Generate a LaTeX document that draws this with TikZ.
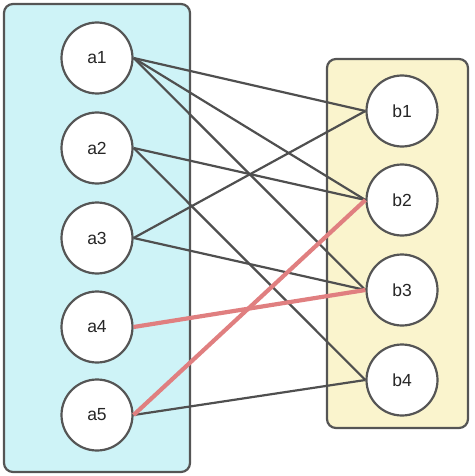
\documentclass[tikz,border=0pt]{standalone}
\usepackage{fontspec}
\setmainfont{Liberation Sans}
\definecolor{lblue}{HTML}{CEF3F7}
\definecolor{lyellow}{HTML}{FAF4CD}
\definecolor{edgec}{HTML}{4F4F4F}
\definecolor{bordc}{HTML}{555555}
\definecolor{redc}{HTML}{E07F80}
\begin{document}
\begin{tikzpicture}[x=1pt,y=-1pt,
  grp/.style={draw=bordc,line width=2.2pt,rounded corners=9pt},
  vtx/.style={circle,draw=bordc,fill=white,line width=2.2pt,minimum size=71pt,inner sep=0pt,font=\fontsize{17.5}{20}\selectfont,text=black!85},
  edge/.style={draw=edgec,line width=2.2pt},
  hl/.style={draw=redc,line width=4.2pt}]
\useasboundingbox (0,0) rectangle (474,476);
\draw[grp,fill=lblue] (4,4) rectangle (190,472);
\draw[grp,fill=lyellow] (327,59) rectangle (468,428);
\node[vtx] (a1) at (97,58) {a1};
\node[vtx] (a2) at (97,148) {a2};
\node[vtx] (a3) at (97,238) {a3};
\node[vtx] (a4) at (97,327) {a4};
\node[vtx] (a5) at (97,415) {a5};
\node[vtx] (b1) at (402,111) {b1};
\node[vtx] (b2) at (402,200) {b2};
\node[vtx] (b3) at (402,290) {b3};
\node[vtx] (b4) at (402,380) {b4};
\draw[edge] (a1.east) -- (b1.west);
\draw[edge] (a1.east) -- (b2.west);
\draw[edge] (a1.east) -- (b3.west);
\draw[edge] (a2.east) -- (b2.west);
\draw[edge] (a2.east) -- (b4.west);
\draw[edge] (a3.east) -- (b1.west);
\draw[edge] (a3.east) -- (b3.west);
\draw[edge] (a5.east) -- (b4.west);
\draw[hl] (a4.east) -- (b3.west);
\draw[hl] (a5.east) -- (b2.west);
\end{tikzpicture}
\end{document}
